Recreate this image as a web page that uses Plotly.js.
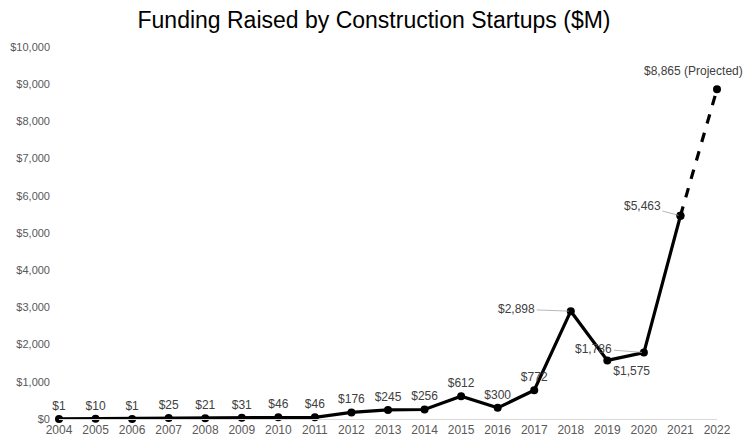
<!DOCTYPE html>
<html>
<head>
<meta charset="utf-8">
<script src="https://cdn.plot.ly/plotly-3.0.1.min.js"></script>
<style>
  html, body { margin: 0; padding: 0; background: #fff; }
  #chart { width: 748px; height: 444px; }
</style>
</head>
<body>
<div id="chart"></div>
<script>
// funding raised per year, $M (2022 is projected)
const years = [2004, 2005, 2006, 2007, 2008, 2009, 2010, 2011, 2012, 2013,
               2014, 2015, 2016, 2017, 2018, 2019, 2020, 2021, 2022];
const funding = [1, 10, 1, 25, 21, 31, 46, 46, 176, 245,
                 256, 612, 300, 772, 2898, 1575, 1786, 5463, 8865];
const yTicks = [0, 1000, 2000, 3000, 4000, 5000, 6000, 7000, 8000, 9000, 10000];

const fmt = v => "$" + v.toLocaleString("en-US");

// actual years are solid, last segment (to projection) is dashed
const nActual = years.length - 1;
const actualX = years.slice(0, nActual);
const actualY = funding.slice(0, nActual);

// labels with leader lines are drawn as annotations
const leader = { 2018: [-54, -2], 2020: [-50, -4], 2021: [-38, -10] };

const textPos = actualX.map(y => y === 2019 ? "bottom right" : "top center");
const textLbl = actualX.map((y, i) => leader[y] ? "" : fmt(actualY[i]));

const solid = {
  x: actualX, y: actualY,
  mode: "lines+markers+text",
  line: { color: "#000", width: 3.2 },
  marker: { color: "#000", size: 8 },
  text: textLbl,
  textposition: textPos,
  textfont: { family: "Liberation Sans, Arial, sans-serif", size: 12, color: "#404040" },
  cliponaxis: false,
  hoverinfo: "x+y"
};

const projected = {
  x: years.slice(nActual - 1), y: funding.slice(nActual - 1),
  mode: "lines+markers",
  line: { color: "#000", width: 3.2, dash: "dash" },
  marker: { color: "#000", size: 8 },
  cliponaxis: false,
  hoverinfo: "x+y"
};

const annotations = Object.keys(leader).map(k => {
  const yr = +k;
  const i = years.indexOf(yr);
  return {
    x: yr, y: funding[i], xref: "x", yref: "y",
    text: fmt(funding[i]),
    showarrow: true, arrowhead: 0, arrowwidth: 0.8, arrowcolor: "#a6a6a6",
    ax: leader[k][0], ay: leader[k][1], standoff: 2,
    font: { family: "Liberation Sans, Arial, sans-serif", size: 12, color: "#404040" }
  };
});
annotations.push({
  x: years[nActual], y: funding[nActual], xref: "x", yref: "y",
  text: fmt(funding[nActual]) + " (Projected)",
  showarrow: false, xshift: -24, yshift: 18,
  font: { family: "Liberation Sans, Arial, sans-serif", size: 12, color: "#404040" }
});

const layout = {
  width: 748, height: 444,
  margin: { l: 59, r: 31, t: 47, b: 25 },
  paper_bgcolor: "#fff", plot_bgcolor: "#fff",
  showlegend: false,
  font: { family: "Liberation Sans, Arial, sans-serif", color: "#595959" },
  title: {
    text: "Funding Raised by Construction Startups ($M)",
    font: { size: 23, color: "#000" },
    x: 0.5, xanchor: "center", y: 0.955, yanchor: "middle"
  },
  xaxis: {
    range: [2004, 2022],
    tickvals: years, ticktext: years.map(String),
    showgrid: false, zeroline: false,
    showline: true, linecolor: "#d9d9d9", linewidth: 1,
    ticks: "", ticklen: 0,
    tickfont: { size: 12, color: "#595959" }
  },
  yaxis: {
    range: [0, 10000],
    tickvals: yTicks, ticktext: yTicks.map(fmt),
    showgrid: false, zeroline: false, showline: false,
    ticks: "", ticklabelstandoff: 8,
    tickfont: { size: 11, color: "#595959" }
  },
  annotations: annotations
};

Plotly.newPlot("chart", [solid, projected], layout, { displayModeBar: false, staticPlot: true });
</script>
</body>
</html>
